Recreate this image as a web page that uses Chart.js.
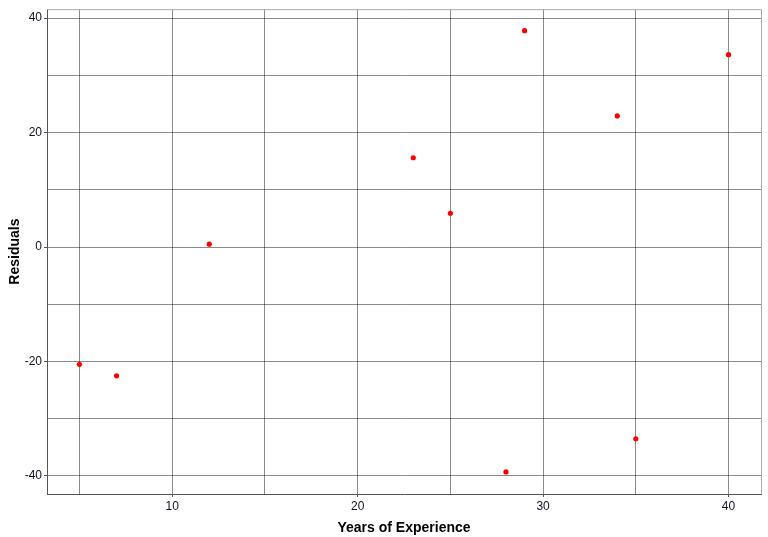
<!DOCTYPE html>
<html>
<head>
<meta charset="utf-8">
<script src="https://cdn.jsdelivr.net/npm/chart.js@4.4.0/dist/chart.umd.min.js"></script>
<style>
  html, body { margin: 0; padding: 0; background: #fff; }
  #wrap { width: 768px; height: 537px; }
</style>
</head>
<body>
<div id="wrap"><canvas id="myChart"></canvas></div>
<script>
// données
const experience = [5, 7, 12, 23, 25, 28, 29, 34, 35, 40];
const residuals = [-20.5, -22.5, 0.5, 15.6, 5.9, -39.3, 37.8, 22.9, -33.5, 33.6];
const xTicks = [5, 10, 15, 20, 25, 30, 35, 40];
const xLabels = [10, 20, 30, 40];
const yTicks = [-40, -30, -20, -10, 0, 10, 20, 30, 40];
const yLabels = [-40, -20, 0, 20, 40];

const gridColor = 'rgba(0,0,0,0.45)';
const axisColor = '#555';
const textFont = { family: 'Liberation Sans, Arial, sans-serif', size: 12 };
const titleFont = { family: 'Liberation Sans, Arial, sans-serif', size: 14, weight: 'bold' };

// cadre clair en haut et à droite
const frame = {
  id: 'frame',
  afterDraw(chart) {
    const { ctx, chartArea: a } = chart;
    ctx.save();
    ctx.strokeStyle = '#aaa';
    ctx.lineWidth = 1;
    ctx.beginPath();
    ctx.moveTo(a.left, a.top + 0.5);
    ctx.lineTo(a.right + 0.5, a.top + 0.5);
    ctx.lineTo(a.right + 0.5, a.bottom);
    ctx.stroke();
    ctx.restore();
  }
};

const data = experience.map((x, i) => ({ x: x, y: residuals[i] }));

new Chart(document.getElementById('myChart'), {
  type: 'scatter',
  data: {
    datasets: [{
      data: data,
      backgroundColor: '#ff0000',
      borderWidth: 0,
      pointRadius: 2.6,
      pointHoverRadius: 2.6
    }]
  },
  options: {
    responsive: true,
    maintainAspectRatio: false,
    devicePixelRatio: 1,
    animation: false,
    layout: { padding: { top: 7, right: 7, left: 0, bottom: 0 } },
    plugins: { legend: { display: false }, tooltip: { enabled: false } },
    scales: {
      x: {
        type: 'linear',
        min: 3.25,
        max: 41.75,
        afterBuildTicks: s => { s.ticks = xTicks.map(v => ({ value: v })); },
        afterFit: s => { s.height = 43; },
        grid: {
          color: gridColor,
          lineWidth: 1,
          tickLength: 3,
          tickColor: c => xLabels.includes(c.tick && c.tick.value) ? axisColor : 'rgba(0,0,0,0)'
        },
        border: { color: axisColor, width: 1 },
        ticks: {
          autoSkip: false,
          maxRotation: 0,
          padding: 2,
          color: '#111122',
          font: textFont,
          callback: v => xLabels.includes(v) ? String(v) : ''
        },
        title: {
          display: true,
          text: 'Years of Experience',
          color: '#000',
          font: titleFont,
          padding: { top: 6, bottom: 0 }
        }
      },
      y: {
        type: 'linear',
        min: -43.15,
        max: 41.55,
        afterBuildTicks: s => { s.ticks = yTicks.map(v => ({ value: v })); },
        afterFit: s => { s.width = 47; },
        grid: {
          color: gridColor,
          lineWidth: 1,
          tickLength: 3,
          tickColor: c => yLabels.includes(c.tick && c.tick.value) ? axisColor : 'rgba(0,0,0,0)'
        },
        border: { color: axisColor, width: 1 },
        ticks: {
          autoSkip: false,
          padding: 2,
          color: '#111122',
          font: textFont,
          callback: v => yLabels.includes(v) ? String(v) : ''
        },
        title: {
          display: true,
          text: 'Residuals',
          color: '#000',
          font: titleFont,
          padding: { top: 7, bottom: 0 }
        }
      }
    }
  },
  plugins: [frame]
});
</script>
</body>
</html>
